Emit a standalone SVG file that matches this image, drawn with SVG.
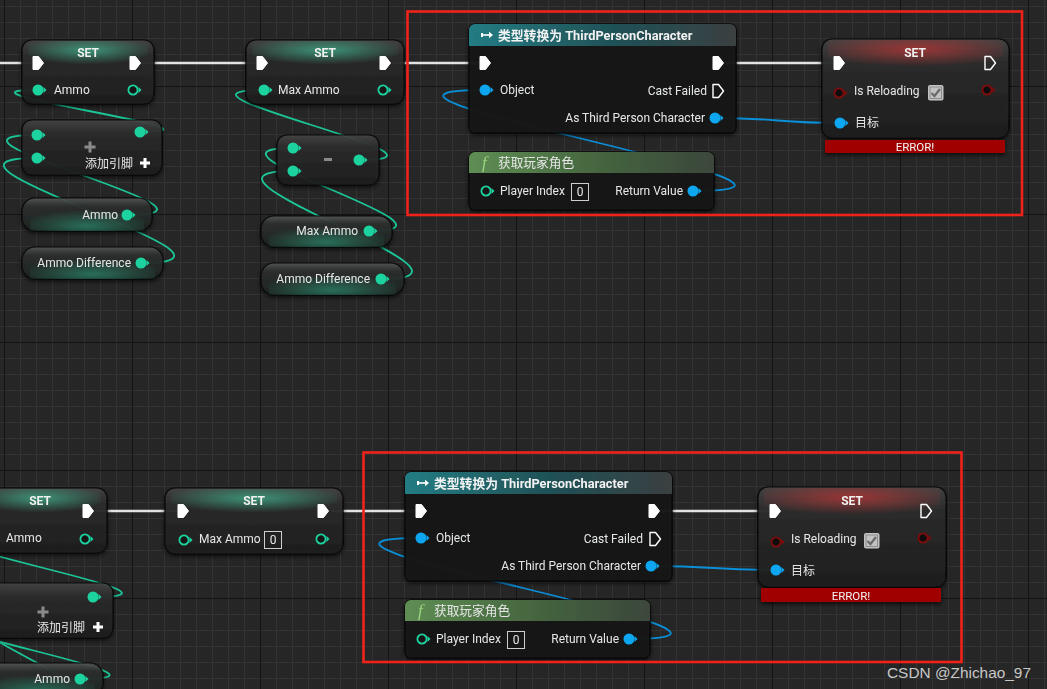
<svg xmlns="http://www.w3.org/2000/svg" xmlns:xlink="http://www.w3.org/1999/xlink" width="1047" height="689" viewBox="0 0 1047 689">
<style>
text{font-family:Roboto,"Noto Sans CJK SC",sans-serif;fill:#e6e6e6;font-size:12px}
.t{font-weight:bold;fill:#f2f2f2;font-size:12.8px}
.set{font-weight:bold;fill:#f0f0f0;text-anchor:middle}
.r{text-anchor:end}
.mid{text-anchor:middle}
.body{fill:url(#gBody);stroke:#0b0b0b;stroke-width:1.2;fill-opacity:.9}
.pill{fill:url(#gPill);stroke:#0b0b0b;stroke-width:1.2;fill-opacity:.9}
.dark{fill:#161918;stroke:#0a0a0a;stroke-width:1.2;fill-opacity:.93}
.wg{fill:none;stroke:#1cc597;stroke-width:1.8}
.wb{fill:none;stroke:#0a8fd8;stroke-width:1.8}
.we{fill:none;stroke:#e2e2e2;stroke-width:2.6}
.box{fill:none;stroke:#cfcfcf;stroke-width:1}
.hl{fill:none;stroke:#f0231b;stroke-width:2.6}
.err{fill:#a00000}
.nd{filter:url(#sh)}
</style>
<defs>
<pattern id="grid" x="4" y="86" width="128" height="128" patternUnits="userSpaceOnUse">
<rect width="128" height="128" fill="#262626"/>
<path d="M16.5 0V128M32.5 0V128M48.5 0V128M64.5 0V128M80.5 0V128M96.5 0V128M112.5 0V128M0 16.5H128M0 32.5H128M0 48.5H128M0 64.5H128M0 80.5H128M0 96.5H128M0 112.5H128" stroke="#333333" stroke-width="1"/>
<path d="M0.5 0V128M0 0.5H128" stroke="#141414" stroke-width="1"/>
</pattern>
<linearGradient id="gBody" x1="0" y1="0" x2="0" y2="1">
<stop offset="0" stop-color="#464646"/><stop offset=".25" stop-color="#2c2c2c"/><stop offset="1" stop-color="#1e1e1e"/>
</linearGradient>
<linearGradient id="gPill" x1="0" y1="0" x2="0" y2="1">
<stop offset="0" stop-color="#555857"/><stop offset=".25" stop-color="#2d302f"/><stop offset="1" stop-color="#1d2321"/>
</linearGradient>
<radialGradient id="gTeal" cx=".5" cy=".35" r=".55">
<stop offset="0" stop-color="#3fb892" stop-opacity=".7"/><stop offset="1" stop-color="#3fb892" stop-opacity="0"/>
</radialGradient>
<radialGradient id="gRed" cx=".5" cy=".3" r=".6">
<stop offset="0" stop-color="#b83434" stop-opacity=".75"/><stop offset="1" stop-color="#b83434" stop-opacity="0"/>
</radialGradient>
<radialGradient id="gPillGlow" cx=".5" cy=".8" r=".6">
<stop offset="0" stop-color="#2f9c7b" stop-opacity=".6"/><stop offset="1" stop-color="#2f9c7b" stop-opacity="0"/>
</radialGradient>
<linearGradient id="gCast" x1="0" y1="0" x2="1" y2="0">
<stop offset="0" stop-color="#247c82"/><stop offset=".55" stop-color="#1f5156"/><stop offset="1" stop-color="#3b3f41"/>
</linearGradient>
<linearGradient id="gFunc" x1="0" y1="0" x2="1" y2="0">
<stop offset="0" stop-color="#5f8d54"/><stop offset=".55" stop-color="#44643e"/><stop offset="1" stop-color="#3c463b"/>
</linearGradient>
<filter id="sh" x="-10%" y="-10%" width="120%" height="130%">
<feDropShadow dx="0" dy="2" stdDeviation="2" flood-color="#000" flood-opacity=".7"/>
</filter>
<g id="pg"><circle r="5.5" fill="#1ed3a0"/><path d="M5.5 -3L8.5 0L5.5 3Z" fill="#1ed3a0"/></g>
<g id="pgh"><circle r="4.6" fill="#151515" stroke="#1ed3a0" stroke-width="1.8"/><path d="M5.5 -3L8.5 0L5.5 3Z" fill="#1ed3a0"/></g>
<g id="pb"><circle r="5.5" fill="#0ea6f0"/><path d="M5.5 -3L8.5 0L5.5 3Z" fill="#0ea6f0"/></g>
<g id="prh"><circle r="4.6" fill="#111" stroke="#800909" stroke-width="1.8"/><path d="M5.5 -3L8.5 0L5.5 3Z" fill="#800909"/></g>
<path id="ex" d="M-5 -6.5H0.5L5.5 0L0.5 6.5H-5Z" fill="#ffffff" stroke="#ffffff" stroke-width="1" stroke-linejoin="round"/>
<path id="exh" d="M-5 -6.5H0.5L5.5 0L0.5 6.5H-5Z" fill="none" stroke="#ffffff" stroke-width="1.4" stroke-linejoin="round"/>
<g id="plusg"><rect x="-5.5" y="-1.5" width="11" height="3" fill="#8a8a8a"/><rect x="-1.5" y="-5.5" width="3" height="11" fill="#8a8a8a"/></g>
<g id="plusw"><rect x="-5" y="-1.5" width="10" height="3" fill="#ffffff"/><rect x="-1.5" y="-5" width="3" height="10" fill="#ffffff"/></g>
<g id="chk"><rect x="0" y="0" width="15.5" height="15.5" rx="2" fill="#c2c2c2"/><rect x="2" y="2" width="11.5" height="11.5" fill="none" stroke="#8c8c8c" stroke-width="1"/><path d="M3.5 8L6.5 11L12 4" fill="none" stroke="#6a6a6a" stroke-width="2.2"/></g>
<g id="castIcon"><rect x="0" y="-2" width="2" height="4" fill="#fff"/><path d="M2 0H9" stroke="#fff" stroke-width="1.6"/><path d="M8 -3.2L12 0L8 3.2Z" fill="#fff"/></g>
</defs>

<rect width="1047" height="689" fill="url(#grid)"/>

<g id="connectors">
<path class="we" d="M0 63H32M142 63H256M392 63H479M724 63H833"/>
<path class="wg" d="M140 132C250 132 -72 90 38 90"/>
<path class="wg" d="M127 215C259 215 -95 135 37 135"/>
<path class="wg" d="M141 263C288 263 -110 158 37 158"/>
<path class="wg" d="M359 160C485 160 138 90 264 90"/>
<path class="wg" d="M369 231C487 231 175 148 293 148"/>
<path class="wg" d="M381 279C516 279 158 171 293 171"/>
<path class="wb" d="M715 118C780 118 775 123 840 123"/>
<path class="wb" d="M693 191C896 191 282 90 485 90"/>
<path class="we" d="M95 511H177M331 511H415M660 511H769"/>
<path class="wg" d="M93 597C224 597 -141 538 -10 538"/>
<path class="wg" d="M80 679C211 679 -144 622 -13 622"/>
<path class="wg" d="M94 730C230 730 -150 599 -13 599"/>
<path class="wb" d="M651 566C715 566 712 570 776 570"/>
<path class="wb" d="M629 639C832 639 218 538 421 538"/>
</g>

<!-- TOP ROW -->
<g id="set-ammo-top" class="nd">
<rect class="body" x="22" y="40" width="132" height="64" rx="10"/>
<rect x="28" y="41" width="120" height="26" fill="url(#gTeal)"/>
<text class="set" x="88" y="57">SET</text>
<use href="#ex" x="38" y="63"/><use href="#ex" x="135" y="63"/>
<use href="#pg" x="38" y="90"/><text x="54" y="94">Ammo</text>
<use href="#pgh" x="133" y="90"/>
</g>
<g id="add-top" class="nd">
<rect class="body" x="22" y="120" width="140" height="55" rx="10"/>
<use href="#pg" x="37" y="135"/><use href="#pg" x="37" y="158"/><use href="#pg" x="140" y="132"/>
<use href="#plusg" x="90" y="147"/>
<text x="85" y="168">添加引脚</text><use href="#plusw" x="145" y="163"/>
</g>
<g id="get-ammo-top" class="nd">
<rect class="pill" x="22" y="198" width="130" height="33" rx="13"/>
<rect x="30" y="205" width="114" height="26" fill="url(#gPillGlow)"/>
<text class="r" x="118" y="219">Ammo</text><use href="#pg" x="127" y="215"/>
</g>
<g id="get-ammodiff-top" class="nd">
<rect class="pill" x="22" y="247" width="141" height="32" rx="13"/>
<rect x="30" y="254" width="125" height="25" fill="url(#gPillGlow)"/>
<text class="r" x="131" y="267">Ammo Difference</text><use href="#pg" x="141" y="263"/>
</g>
<g id="set-maxammo-top" class="nd">
<rect class="body" x="246" y="40" width="158" height="64" rx="10"/>
<rect x="252" y="41" width="146" height="26" fill="url(#gTeal)"/>
<text class="set" x="325" y="57">SET</text>
<use href="#ex" x="262" y="63"/><use href="#ex" x="385" y="63"/>
<use href="#pg" x="264" y="90"/><text x="278" y="94">Max Ammo</text>
<use href="#pgh" x="383" y="90"/>
</g>
<g id="minus-top" class="nd">
<rect class="body" x="277" y="135" width="102" height="50" rx="10"/>
<use href="#pg" x="293" y="148"/><use href="#pg" x="293" y="171"/><use href="#pg" x="359" y="160"/>
<rect x="324" y="158" width="8" height="3" fill="#8a8a8a"/>
</g>
<g id="get-maxammo-top" class="nd">
<rect class="pill" x="261" y="216" width="131" height="31" rx="13"/>
<rect x="269" y="222" width="115" height="25" fill="url(#gPillGlow)"/>
<text class="r" x="358" y="235">Max Ammo</text><use href="#pg" x="369" y="231"/>
</g>
<g id="get-ammodiff2-top" class="nd">
<rect class="pill" x="261" y="263" width="143" height="32" rx="13"/>
<rect x="269" y="270" width="127" height="25" fill="url(#gPillGlow)"/>
<text class="r" x="370" y="283">Ammo Difference</text><use href="#pg" x="381" y="279"/>
</g>
<g id="cast-top" class="nd">
<rect class="dark" x="469" y="24" width="267" height="109" rx="6"/>
<path d="M469 46V30a6 6 0 0 1 6-6H730a6 6 0 0 1 6 6V46Z" fill="url(#gCast)"/>
<use href="#castIcon" x="481" y="35"/>
<text class="t" x="498" y="39.5">类型转换为 ThirdPersonCharacter</text>
<use href="#ex" x="485" y="63"/><use href="#ex" x="718" y="63"/>
<use href="#pb" x="485" y="90"/><text x="500" y="94">Object</text>
<text class="r" x="707" y="95">Cast Failed</text><use href="#exh" x="718" y="91"/>
<text class="r" x="705" y="122">As Third Person Character</text><use href="#pb" x="715" y="118"/>
</g>
<g id="getplayer-top" class="nd">
<rect class="dark" x="469" y="152" width="245" height="58" rx="6"/>
<path d="M469 173V158a6 6 0 0 1 6-6H708a6 6 0 0 1 6 6V173Z" fill="url(#gFunc)"/>
<text x="482" y="168" style="font-family:'Liberation Serif',serif;font-style:italic;font-size:17px;fill:#9bd47e">f</text>
<text x="498" y="167" style="font-size:12.7px">获取玩家角色</text>
<use href="#pgh" x="486" y="191"/><text x="500" y="195">Player Index</text>
<rect class="box" x="571.5" y="183.5" width="17" height="17"/><text class="mid" x="580" y="196">0</text>
<text class="r" x="683" y="195">Return Value</text><use href="#pb" x="693" y="191"/>
</g>
<g id="set-reloading-top" class="nd">
<rect class="body" x="822" y="39" width="187" height="99" rx="10"/>
<rect x="828" y="40" width="175" height="30" fill="url(#gRed)"/>
<text class="set" x="915" y="57">SET</text>
<use href="#ex" x="839" y="63"/><use href="#exh" x="990" y="63"/>
<use href="#prh" x="839" y="93"/><text x="854" y="95">Is Reloading</text>
<use href="#chk" x="928" y="85"/>
<use href="#prh" x="987" y="90"/>
<use href="#pb" x="840" y="123"/><text x="855" y="127">目标</text>
<rect class="err" x="825" y="140" width="180" height="13" rx="1"/>
<text class="mid" x="915" y="151" style="font-size:11.5px;fill:#f4f4f4">ERROR!</text>
</g>

<!-- BOTTOM ROW -->
<g id="set-ammo-bottom" class="nd">
<rect class="body" x="-27" y="488" width="134" height="65" rx="10"/>
<rect x="-21" y="489" width="122" height="26" fill="url(#gTeal)"/>
<text class="set" x="40" y="505">SET</text>
<use href="#ex" x="-11" y="511"/><use href="#ex" x="88" y="511"/>
<use href="#pg" x="-10" y="538"/><text x="6" y="542">Ammo</text>
<use href="#pgh" x="85" y="539"/>
</g>
<g id="set-maxammo-bottom" class="nd">
<rect class="body" x="165" y="488" width="178" height="66" rx="10"/>
<rect x="171" y="489" width="166" height="26" fill="url(#gTeal)"/>
<text class="set" x="254" y="505">SET</text>
<use href="#ex" x="183" y="511"/><use href="#ex" x="323" y="511"/>
<use href="#pgh" x="184" y="540"/><text x="199" y="543">Max Ammo</text>
<rect class="box" x="264.5" y="531.5" width="17" height="17"/><text class="mid" x="273" y="544">0</text>
<use href="#pgh" x="321" y="539"/>
</g>
<g id="add-bottom" class="nd">
<rect class="body" x="-30" y="583" width="143" height="55" rx="10"/>
<use href="#pg" x="-13" y="599"/><use href="#pg" x="-13" y="622"/><use href="#pg" x="93" y="597"/>
<use href="#plusg" x="43" y="612"/>
<text x="37" y="632">添加引脚</text><use href="#plusw" x="98" y="627"/>
</g>
<g id="get-ammo-bottom" class="nd">
<rect class="pill" x="-28" y="663" width="131" height="33" rx="13"/>
<rect x="-20" y="670" width="115" height="26" fill="url(#gPillGlow)"/>
<text class="r" x="70" y="683">Ammo</text><use href="#pg" x="80" y="679"/>
</g>
<g id="cast-bottom" class="nd">
<rect class="dark" x="405" y="472" width="267" height="109" rx="6"/>
<path d="M405 494V478a6 6 0 0 1 6-6H666a6 6 0 0 1 6 6V494Z" fill="url(#gCast)"/>
<use href="#castIcon" x="417" y="483"/>
<text class="t" x="434" y="487.5">类型转换为 ThirdPersonCharacter</text>
<use href="#ex" x="421" y="511"/><use href="#ex" x="654" y="511"/>
<use href="#pb" x="421" y="538"/><text x="436" y="542">Object</text>
<text class="r" x="643" y="543">Cast Failed</text><use href="#exh" x="655" y="539"/>
<text class="r" x="641" y="570">As Third Person Character</text><use href="#pb" x="651" y="566"/>
</g>
<g id="getplayer-bottom" class="nd">
<rect class="dark" x="405" y="600" width="245" height="58" rx="6"/>
<path d="M405 621V606a6 6 0 0 1 6-6H644a6 6 0 0 1 6 6V621Z" fill="url(#gFunc)"/>
<text x="418" y="616" style="font-family:'Liberation Serif',serif;font-style:italic;font-size:17px;fill:#9bd47e">f</text>
<text x="434" y="615" style="font-size:12.7px">获取玩家角色</text>
<use href="#pgh" x="422" y="639"/><text x="436" y="643">Player Index</text>
<rect class="box" x="507.5" y="631.5" width="17" height="17"/><text class="mid" x="516" y="644">0</text>
<text class="r" x="619" y="643">Return Value</text><use href="#pb" x="629" y="639"/>
</g>
<g id="set-reloading-bottom" class="nd">
<rect class="body" x="758" y="487" width="188" height="100" rx="10"/>
<rect x="764" y="488" width="176" height="30" fill="url(#gRed)"/>
<text class="set" x="852" y="505">SET</text>
<use href="#ex" x="775" y="511"/><use href="#exh" x="926" y="511"/>
<use href="#prh" x="776" y="542"/><text x="791" y="543">Is Reloading</text>
<use href="#chk" x="864" y="533"/>
<use href="#prh" x="923" y="538"/>
<use href="#pb" x="776" y="570"/><text x="791" y="575">目标</text>
<rect class="err" x="761" y="588" width="180" height="14" rx="1"/>
<text class="mid" x="851" y="599.5" style="font-size:11.5px;fill:#f4f4f4">ERROR!</text>
</g>

<g id="highlights">
<rect class="hl" x="407.5" y="11.5" width="614.5" height="203.5"/>
<rect class="hl" x="363.5" y="452.5" width="598" height="209.5"/>
</g>
<text x="887" y="678" style="font-family:'Liberation Sans',Arial,sans-serif;font-size:15.4px;fill:#c8c8c8">CSDN @Zhichao_97</text>
</svg>
